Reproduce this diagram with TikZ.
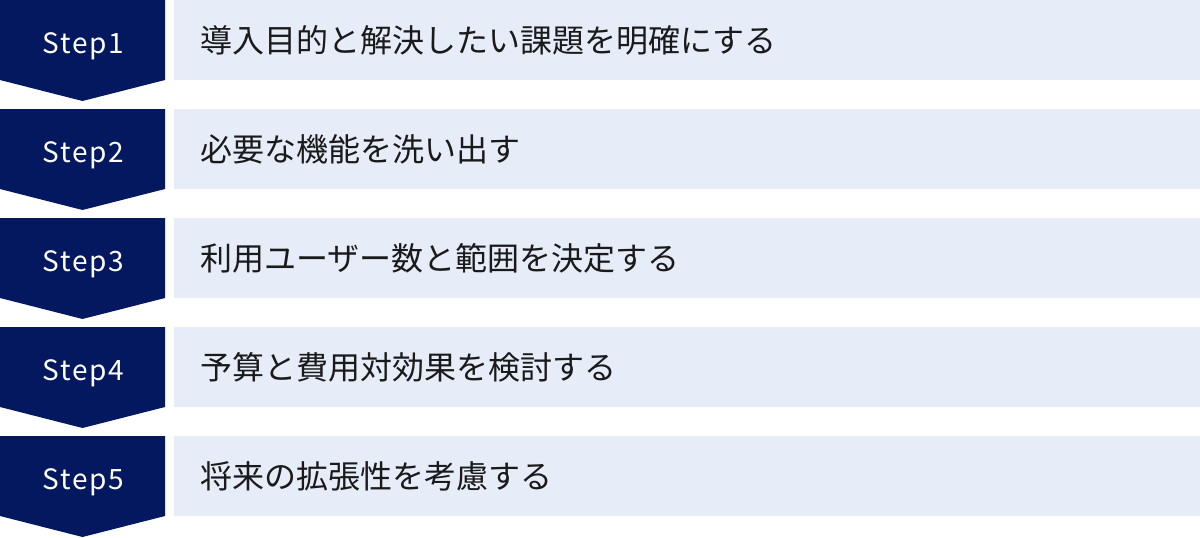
\documentclass[tikz,border=0pt]{standalone}
\usepackage{fontspec}
\newfontfamily\jp{Noto Sans CJK JP}
\newfontfamily\jpls[LetterSpace=6]{Noto Sans CJK JP}
\definecolor{navy}{RGB}{4,24,96}
\definecolor{lightbg}{RGB}{230,236,248}
\definecolor{txt}{RGB}{26,26,26}
\tikzset{
  steparrow/.style={fill=navy, draw=none},
  itembox/.style={fill=lightbg, draw=none},
  steplabel/.style={text=white, font=\jpls\fontsize{28}{30}\selectfont, inner sep=0pt, anchor=base},
  itemlabel/.style={text=txt, font=\jp\fontsize{32}{36}\selectfont, inner sep=0pt, anchor=base west}
}
\begin{document}
\begin{tikzpicture}[x=1pt,y=-1pt]
\useasboundingbox (0,0) rectangle (1200,538);
\foreach \i/\lab in {1/導入目的と解決したい課題を明確にする,2/必要な機能を洗い出す,3/利用ユーザー数と範囲を決定する,4/予算と費用対効果を検討する,5/将来の拡張性を考慮する}{
  \pgfmathsetmacro{\t}{109*(\i-1)}
  \fill[steparrow] (0,\t) -- (165,\t) -- (165,\t+80) -- (82.5,\t+101) -- (0,\t+80) -- cycle;
  \fill[itembox] (174,\t) rectangle (1200,\t+80);
  \node[steplabel] (step\i) at (83.5,\t+53) {Step\i};
  \node[itemlabel] (item\i) at (200,\t+52) {\lab};
}
\end{tikzpicture}
\end{document}
